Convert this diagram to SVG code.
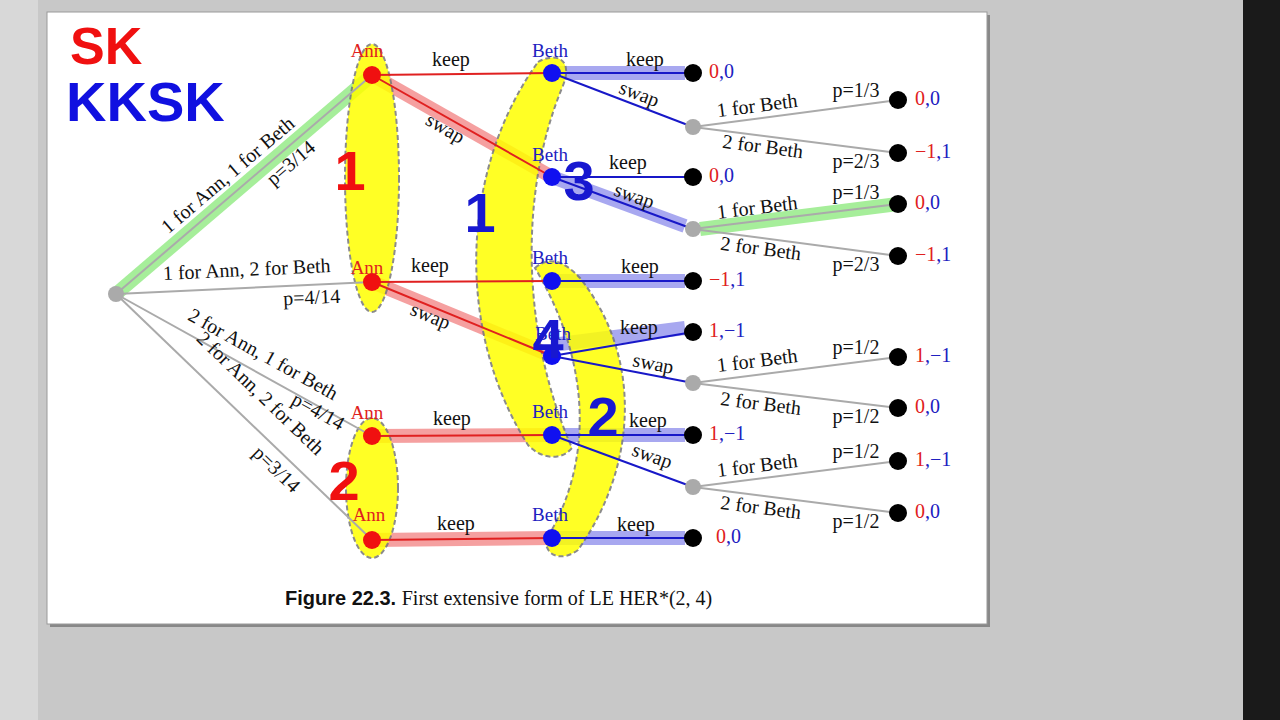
<svg xmlns="http://www.w3.org/2000/svg" width="1280" height="720" viewBox="0 0 1280 720">
<style>
.t{font-family:"Liberation Serif",serif;font-size:20px;fill:#111}
.nm{font-family:"Liberation Serif",serif;font-size:19px}
.big{font-family:"Liberation Sans",sans-serif;font-weight:bold}
.e{stroke-width:2;fill:none}
.hl{stroke-width:14;fill:none;stroke-linecap:butt}
.g{stroke:#aaa;stroke-width:2}
.ys{fill:#ffff00;stroke:#777;stroke-width:2;stroke-dasharray:5,3}
</style>
<rect width="1280" height="720" fill="#c8c8c8"/>
<rect x="0" y="0" width="38" height="720" fill="#d8d8d8"/>
<rect x="1243" y="0" width="37" height="720" fill="#1a1a1a"/>
<rect x="50" y="15" width="940" height="612" fill="#888"/>
<rect x="47" y="12" width="940" height="612" fill="#fff" stroke="#999"/>
<g id="highlights">
<line x1="116" y1="294" x2="372" y2="75" stroke="#a6ee9a" class="hl"/>
<line x1="700" y1="229" x2="898" y2="204" stroke="#a6ee9a" class="hl"/>
<line x1="372" y1="75" x2="552" y2="177" stroke="#f5a0a0" class="hl"/>
<line x1="372" y1="282" x2="552" y2="356" stroke="#f5a0a0" class="hl"/>
<line x1="372" y1="436" x2="552" y2="435" stroke="#f5a0a0" class="hl"/>
<line x1="372" y1="540" x2="552" y2="538" stroke="#f5a0a0" class="hl"/>
<line x1="552" y1="73" x2="685" y2="73" stroke="#a8a8f0" class="hl"/>
<line x1="552" y1="177" x2="685" y2="226" stroke="#a8a8f0" class="hl"/>
<line x1="552" y1="281" x2="685" y2="281" stroke="#a8a8f0" class="hl"/>
<line x1="552" y1="345" x2="685" y2="328" stroke="#a8a8f0" class="hl"/>
<line x1="552" y1="435" x2="685" y2="435" stroke="#a8a8f0" class="hl"/>
<line x1="552" y1="538" x2="685" y2="538" stroke="#a8a8f0" class="hl"/>
</g>
<g id="infosets" opacity="0.85">
<ellipse class="ys" cx="372" cy="178" rx="27" ry="134"/>
<ellipse class="ys" cx="372" cy="488" rx="26" ry="70"/>
<path class="ys" d="M538,62 C555,52 575,58 562,88 C520,190 520,330 572,448 C560,462 540,458 528,445 C455,330 460,170 538,62 Z"/>
<path class="ys" d="M535,268 C550,255 565,262 580,278 C645,360 635,470 578,550 C562,562 545,556 546,540 C595,460 590,360 535,268 Z"/>
</g>
<g id="connectors">
<line class="g" x1="116" y1="294" x2="372" y2="75"/>
<line class="g" x1="116" y1="294" x2="372" y2="282"/>
<line class="g" x1="116" y1="294" x2="372" y2="436"/>
<line class="g" x1="116" y1="294" x2="372" y2="540"/>
<g stroke="#e02020" class="e">
<line x1="372" y1="75" x2="552" y2="73"/>
<line x1="372" y1="75" x2="552" y2="177"/>
<line x1="372" y1="282" x2="552" y2="281"/>
<line x1="372" y1="282" x2="552" y2="356"/>
<line x1="372" y1="436" x2="552" y2="435"/>
<line x1="372" y1="540" x2="552" y2="538"/>
</g>
<g stroke="#1818c8" class="e">
<line x1="552" y1="73" x2="693" y2="73"/>
<line x1="552" y1="73" x2="693" y2="127"/>
<line x1="552" y1="177" x2="693" y2="177"/>
<line x1="552" y1="177" x2="693" y2="229"/>
<line x1="552" y1="281" x2="693" y2="281"/>
<line x1="552" y1="356" x2="693" y2="332"/>
<line x1="552" y1="356" x2="693" y2="383"/>
<line x1="552" y1="435" x2="693" y2="435"/>
<line x1="552" y1="435" x2="693" y2="487"/>
<line x1="552" y1="538" x2="693" y2="538"/>
</g>
<line class="g" x1="693" y1="127" x2="898" y2="100"/>
<line class="g" x1="693" y1="127" x2="898" y2="153"/>
<line class="g" x1="693" y1="229" x2="898" y2="204"/>
<line class="g" x1="693" y1="229" x2="898" y2="256"/>
<line class="g" x1="693" y1="383" x2="898" y2="357"/>
<line class="g" x1="693" y1="383" x2="898" y2="408"/>
<line class="g" x1="693" y1="487" x2="898" y2="461"/>
<line class="g" x1="693" y1="487" x2="898" y2="513"/>
</g>
<g id="nodes">
<g id="root"><circle cx="116" cy="294" r="8" fill="#aaa"/></g>
<g id="ann" fill="#f01010">
<circle cx="372" cy="75" r="9"/><circle cx="372" cy="282" r="9"/><circle cx="372" cy="436" r="9"/><circle cx="372" cy="540" r="9"/>
</g>
<g id="beth" fill="#1010f0">
<circle cx="552" cy="73" r="9"/><circle cx="552" cy="177" r="9"/><circle cx="552" cy="281" r="9"/><circle cx="552" cy="356" r="9"/><circle cx="552" cy="435" r="9"/><circle cx="552" cy="538" r="9"/>
</g>
<g id="chance" fill="#aaa">
<circle cx="693" cy="127" r="8"/><circle cx="693" cy="229" r="8"/><circle cx="693" cy="383" r="8"/><circle cx="693" cy="487" r="8"/>
</g>
<g id="terminals" fill="#000">
<circle cx="693" cy="73" r="9"/><circle cx="693" cy="177" r="9"/><circle cx="693" cy="281" r="9"/><circle cx="693" cy="332" r="9"/><circle cx="693" cy="435" r="9"/><circle cx="693" cy="538" r="9"/>
<circle cx="898" cy="100" r="9"/><circle cx="898" cy="153" r="9"/><circle cx="898" cy="204" r="9"/><circle cx="898" cy="256" r="9"/><circle cx="898" cy="357" r="9"/><circle cx="898" cy="408" r="9"/><circle cx="898" cy="461" r="9"/><circle cx="898" cy="513" r="9"/>
</g>
</g>
<g id="labels">
<g class="nm" fill="#e02020" text-anchor="middle">
<text x="367" y="57">Ann</text><text x="367" y="274">Ann</text><text x="367" y="419">Ann</text><text x="369" y="521">Ann</text>
</g>
<g class="nm" fill="#2020c0" text-anchor="middle">
<text x="550" y="57">Beth</text><text x="550" y="161">Beth</text><text x="550" y="264">Beth</text><text x="553" y="340">Beth</text><text x="550" y="418">Beth</text><text x="550" y="521">Beth</text>
</g>
<g class="t" text-anchor="middle">
<text x="451" y="66">keep</text><text x="430" y="272">keep</text><text x="452" y="425">keep</text><text x="456" y="530">keep</text>
<text x="645" y="66">keep</text><text x="628" y="169">keep</text><text x="640" y="273">keep</text><text x="639" y="334">keep</text><text x="648" y="427">keep</text><text x="636" y="531">keep</text>
<text transform="translate(442,134) rotate(30)">swap</text>
<text transform="translate(428,322) rotate(22)">swap</text>
<text transform="translate(637,100) rotate(21)">swap</text>
<text transform="translate(632,202) rotate(20)">swap</text>
<text transform="translate(652,370) rotate(11)">swap</text>
<text transform="translate(650,462) rotate(20)">swap</text>
<text transform="translate(232,180) rotate(-40.5)">1 for Ann, 1 for Beth</text>
<text transform="translate(295,168) rotate(-40.5)">p=3/14</text>
<text transform="translate(247,276) rotate(-2.7)">1 for Ann, 2 for Beth</text>
<text transform="translate(312,304) rotate(-2.7)">p=4/14</text>
<text transform="translate(260,360) rotate(29)">2 for Ann, 1 for Beth</text>
<text transform="translate(315,417) rotate(29)">p=4/14</text>
<text transform="translate(256,398) rotate(43.9)">2 for Ann, 2 for Beth</text>
<text transform="translate(272,474) rotate(43.9)">p=3/14</text>
<text transform="translate(758,112) rotate(-7.5)">1 for Beth</text>
<text transform="translate(762,153) rotate(7.3)">2 for Beth</text>
<text transform="translate(758,214) rotate(-7)">1 for Beth</text>
<text transform="translate(760,255) rotate(7.5)">2 for Beth</text>
<text transform="translate(758,367) rotate(-7.2)">1 for Beth</text>
<text transform="translate(760,410) rotate(7)">2 for Beth</text>
<text transform="translate(758,472) rotate(-7.2)">1 for Beth</text>
<text transform="translate(760,514) rotate(7.2)">2 for Beth</text>
<text x="856" y="97">p=1/3</text><text x="856" y="168">p=2/3</text>
<text x="856" y="199">p=1/3</text><text x="856" y="271">p=2/3</text>
<text x="856" y="354">p=1/2</text><text x="856" y="423">p=1/2</text>
<text x="856" y="458">p=1/2</text><text x="856" y="528">p=1/2</text>
</g>
<g class="t">
<text x="709" y="78"><tspan fill="#e02020">0</tspan><tspan fill="#2020c0">,0</tspan></text>
<text x="709" y="182"><tspan fill="#e02020">0</tspan><tspan fill="#2020c0">,0</tspan></text>
<text x="709" y="286"><tspan fill="#e02020">−1</tspan><tspan fill="#2020c0">,1</tspan></text>
<text x="709" y="337"><tspan fill="#e02020">1</tspan><tspan fill="#2020c0">,−1</tspan></text>
<text x="709" y="440"><tspan fill="#e02020">1</tspan><tspan fill="#2020c0">,−1</tspan></text>
<text x="716" y="543"><tspan fill="#e02020">0</tspan><tspan fill="#2020c0">,0</tspan></text>
<text x="915" y="105"><tspan fill="#e02020">0</tspan><tspan fill="#2020c0">,0</tspan></text>
<text x="915" y="158"><tspan fill="#e02020">−1</tspan><tspan fill="#2020c0">,1</tspan></text>
<text x="915" y="209"><tspan fill="#e02020">0</tspan><tspan fill="#2020c0">,0</tspan></text>
<text x="915" y="261"><tspan fill="#e02020">−1</tspan><tspan fill="#2020c0">,1</tspan></text>
<text x="915" y="362"><tspan fill="#e02020">1</tspan><tspan fill="#2020c0">,−1</tspan></text>
<text x="915" y="413"><tspan fill="#e02020">0</tspan><tspan fill="#2020c0">,0</tspan></text>
<text x="915" y="466"><tspan fill="#e02020">1</tspan><tspan fill="#2020c0">,−1</tspan></text>
<text x="915" y="518"><tspan fill="#e02020">0</tspan><tspan fill="#2020c0">,0</tspan></text>
</g>
<g class="big" font-size="56">
<text x="350" y="190" fill="#f01010" text-anchor="middle">1</text>
<text x="480" y="232" fill="#1818d0" text-anchor="middle">1</text>
<text x="579" y="200" fill="#1818d0" text-anchor="middle">3</text>
<text x="548" y="358" fill="#1818d0" text-anchor="middle">4</text>
<text x="603" y="436" fill="#1818d0" text-anchor="middle">2</text>
<text x="344" y="500" fill="#f01010" text-anchor="middle">2</text>
</g>
<text x="70" y="64" class="big" font-size="52" fill="#f01010">SK</text>
<text x="66" y="121" class="big" font-size="56" fill="#1010e0">KKSK</text>
<text x="285" y="605" font-family="Liberation Sans,sans-serif" font-weight="bold" font-size="20" fill="#111">Figure 22.3. <tspan font-family="Liberation Serif,serif" font-weight="normal">First extensive form of LE HER*(2, 4)</tspan></text>
</g>
</svg>
